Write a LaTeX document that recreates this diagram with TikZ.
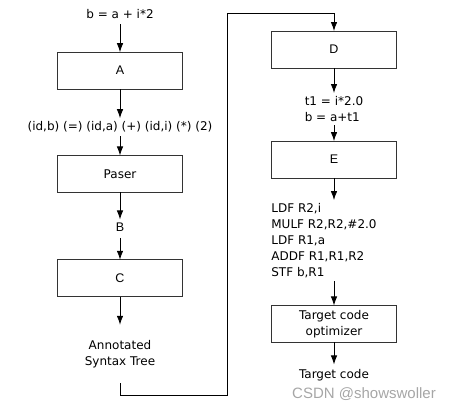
\documentclass[tikz,border=0pt]{standalone}
\usepackage{fontspec}
\setmainfont{DejaVu Sans}
\newfontfamily\boxfont{Liberation Sans}
\usetikzlibrary{positioning,arrows.meta}

\begin{document}
\begin{tikzpicture}[x=1pt,y=-1pt,>={Latex[length=9pt,width=6.5pt]},
				txt/.style={font=\fontsize{12}{16}\selectfont,inner sep=3pt},
				oneline/.style={txt,text height=9pt,text depth=2.5pt},
				block/.style={draw=black!80,line width=0.8pt,minimum width=125pt,minimum height=37pt,
					outer sep=0pt,font=\fontsize{12}{16}\selectfont,align=center},
				letter/.style={block,font=\boxfont\fontsize{12.5}{15}\selectfont},
				every path/.style={line width=0.8pt}]
				\useasboundingbox (0,0) rectangle (456,410);
				% left column
				\node (src)  [oneline] at (120,15)            {b = a + i*2};
				\node (A)    [letter,  below=28pt of src]    {A};
				\node (tok)  [oneline, below=29pt of A]      {(id,b) (=) (id,a) (+) (id,i) (*) (2)};
				\node (P)    [block,   below=19pt of tok]    {Paser};
				\node (B)    [oneline, font=\boxfont\fontsize{12.5}{15}\selectfont, below=27pt of P] {B};
				\node (C)    [letter,  below=22pt of B]      {C};
				\node (AST)  [txt, align=center, inner ysep=15pt, below=28pt of C] {Annotated\\Syntax Tree};
				% right column
				\node (D)    [letter] at (334,49.5)          {D};
				\node (calc) [txt, align=left, below=25pt of D] {t1 = i*2.0\\b = a+t1};
				\node (E)    [letter,  below=16pt of calc]   {E};
				\node (code) [txt, align=left, below=22pt of E, xshift=-10pt]
					{LDF R2,i\\MULF R2,R2,\#2.0\\LDF R1,a\\ADDF R1,R1,R2\\STF b,R1};
				\node (opt)  [block,   below=24pt of code, xshift=10pt] {Target code\\optimizer};
				\node (out)  [txt, inner sep=5pt, below=22pt of opt] {Target code};
				\node (mark) [font=\boxfont\fontsize{15}{18}\selectfont, text=black!35] at (364,394) {CSDN @showswoller};
				
				\coordinate (loopL) at (227,395);
				\coordinate (loopR) at (334,13);
				
				\draw[->] (src) -- (A);
				\draw[->] (A) -- (tok);
				\draw[->] (tok) -- (P);
				\draw[->] (P) -- (B);
				\draw[->] (B) -- (C);
				\draw[->] (C) -- (AST);
				\draw[->] (AST.south) |- (loopL) |- (loopR) -- (D.north);
				\draw[->] (D) -- (calc.north -| D);
				\draw[->] (calc.south -| E) -- (E);
				\draw[->] (E) -- (E |- code.north);
				\draw[->] (code.south -| opt) -- (opt);
				\draw[->] (opt) -- (out);
			\end{tikzpicture}
\end{document}
